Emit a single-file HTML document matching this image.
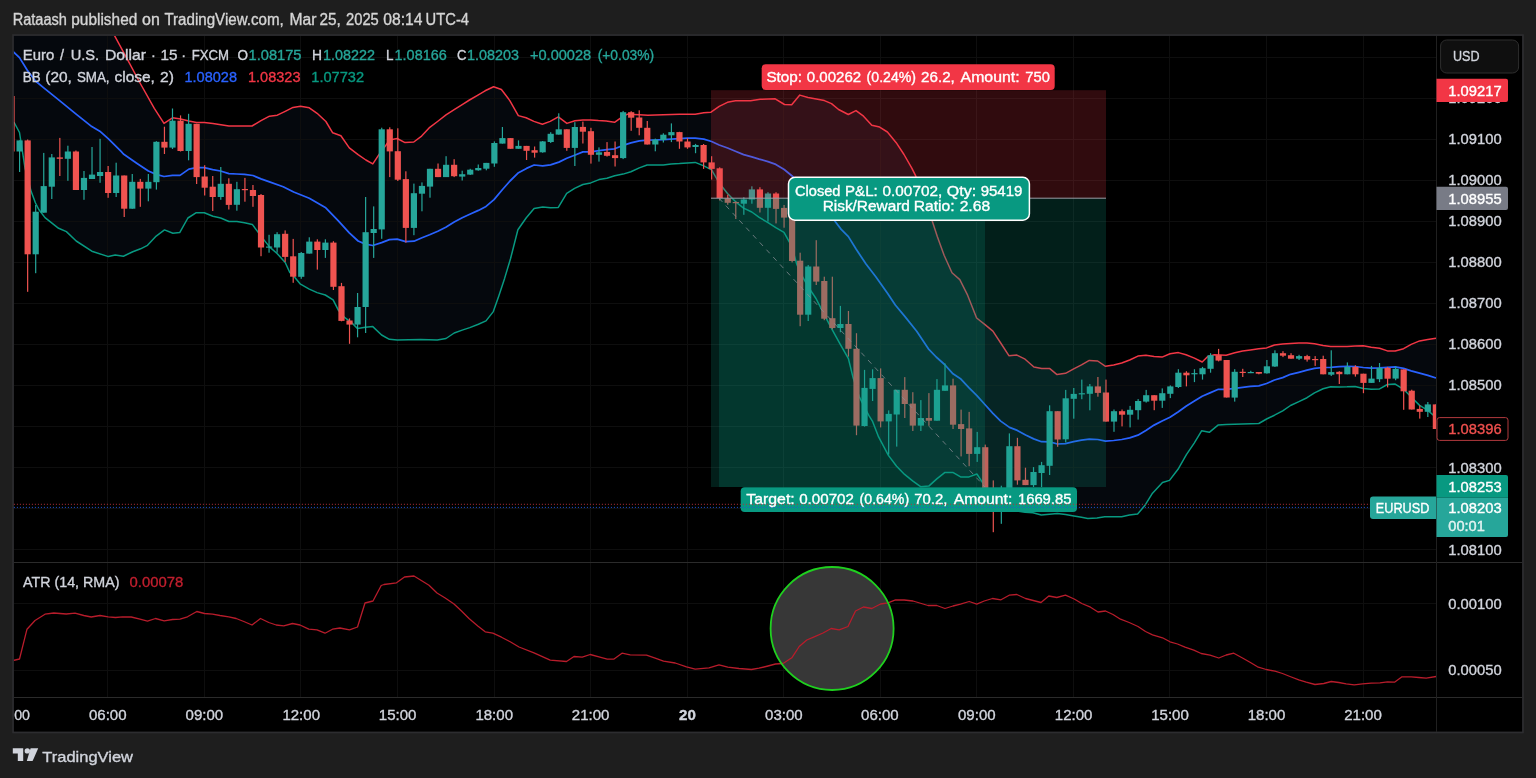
<!DOCTYPE html><html><head><meta charset="utf-8"><title>EURUSD chart</title>
<style>html,body{margin:0;padding:0;background:#1e1e1e;width:1536px;height:778px;overflow:hidden}svg{display:block;will-change:transform}text{font-family:"Liberation Sans",sans-serif}</style></head><body>
<svg width="1536" height="778" viewBox="0 0 1536 778">
<defs>
<clipPath id="cm"><rect x="13.9" y="35.9" width="1422.6" height="526.4"/></clipPath>
<clipPath id="ca"><rect x="13.9" y="562.3" width="1422.6" height="134.70000000000005"/></clipPath>
</defs>
<rect width="1536" height="778" fill="#1e1e1e"/><filter id="idf" x="0" y="0" width="1536" height="778" filterUnits="userSpaceOnUse" color-interpolation-filters="sRGB"><feOffset dx="0" dy="0"/></filter><g filter="url(#idf)">
<rect x="13.05" y="35.05" width="1509.90" height="697.40" fill="#000" stroke="#2d2d30" stroke-width="1.7"/>
<polygon points="13.9,30.0 114.3,30.0 114.3,35.2 127.0,58.6 140.6,84.0 154.3,108.4 164.0,123.4 172.5,117.8 180.7,119.1 188.9,121.1 196.5,122.5 204.3,122.5 212.9,123.4 228.9,126.0 252.0,126.0 261.0,120.7 269.5,116.2 277.3,115.2 285.2,111.3 293.0,107.4 300.5,106.2 309.3,107.8 317.1,113.3 325.9,121.5 332.7,132.8 340.9,135.7 349.3,147.9 358.1,154.7 365.9,160.0 372.8,163.9 379.6,153.7 385.5,145.9 389.4,140.0 397.2,138.5 405.0,142.6 413.8,142.0 421.6,136.1 429.1,127.9 438.2,121.0 446.0,114.9 454.2,109.6 462.6,104.3 469.5,100.0 477.5,95.3 485.1,90.8 493.6,86.7 501.4,89.5 509.8,100.6 518.3,115.6 526.1,117.8 533.9,121.4 542.4,124.3 550.2,121.4 558.3,116.9 566.9,123.4 574.9,120.8 582.8,119.9 590.6,119.9 598.4,120.6 606.2,121.0 614.5,122.3 620.5,118.1 627.4,114.2 639.3,114.8 647.9,115.2 663.5,114.8 679.5,114.2 695.2,114.2 703.8,112.8 711.0,112.2 719.2,106.4 727.4,102.3 735.5,100.7 750.6,100.7 760.2,99.3 775.2,98.8 784.5,104.5 791.7,104.7 799.8,95.1 808.0,97.5 817.6,99.2 824.4,100.6 831.5,103.6 838.6,109.5 848.3,114.5 856.0,110.6 863.5,116.2 871.8,125.2 879.6,127.1 887.4,132.0 896.2,142.7 904.0,154.5 911.8,168.1 915.7,175.9 924.0,198.5 932.3,221.2 937.3,236.6 944.1,255.2 952.0,272.8 959.8,279.6 967.6,295.2 976.6,318.0 984.7,324.4 992.9,331.2 1000.7,343.0 1008.9,355.7 1016.9,355.1 1025.1,359.2 1033.9,367.0 1041.7,368.4 1049.5,368.4 1057.0,374.6 1065.5,373.3 1073.7,368.8 1081.5,364.9 1089.3,360.4 1097.7,361.0 1105.5,366.3 1113.7,364.9 1121.7,363.0 1129.7,360.0 1137.9,356.1 1145.9,355.2 1154.1,356.5 1162.1,357.1 1170.0,353.8 1178.4,352.6 1186.0,354.8 1194.4,358.1 1202.2,362.0 1207.5,356.7 1214.3,354.8 1226.2,355.2 1234.8,352.8 1242.6,350.9 1250.4,349.9 1258.8,348.7 1266.6,347.9 1274.5,345.0 1282.7,344.0 1290.5,343.6 1298.9,343.0 1307.0,342.9 1314.5,343.8 1323.1,345.4 1330.7,346.4 1339.3,346.6 1347.1,346.4 1355.1,346.0 1363.3,345.8 1371.2,347.3 1379.6,348.3 1387.4,350.9 1395.2,350.9 1403.6,348.7 1411.2,344.4 1419.6,340.9 1427.8,339.5 1436.0,338.2 1436.0,417.5 1427.8,410.4 1419.6,405.4 1411.2,397.1 1403.6,389.3 1395.2,384.1 1387.4,384.5 1379.6,388.9 1371.2,389.3 1363.3,388.4 1355.1,386.4 1347.1,386.8 1339.3,387.0 1330.7,386.8 1323.1,388.8 1314.5,392.9 1307.0,397.7 1298.9,401.6 1290.5,405.5 1282.7,410.8 1274.5,415.2 1266.6,419.0 1258.8,423.5 1242.6,424.1 1226.2,424.5 1218.0,425.1 1209.3,432.3 1201.6,430.8 1194.2,443.1 1186.4,454.7 1178.0,469.3 1169.5,480.4 1162.5,482.5 1152.5,493.2 1144.8,505.6 1137.6,514.1 1129.4,515.1 1121.7,516.7 1104.7,516.7 1097.0,517.9 1087.8,518.4 1081.5,517.3 1073.9,515.9 1065.5,514.5 1057.3,513.6 1049.5,514.2 1041.3,515.0 1032.9,512.7 1025.0,512.3 1017.0,511.0 1009.0,509.0 1001.0,505.0 993.0,498.0 985.0,487.0 982.1,481.8 976.9,474.0 969.0,476.9 960.6,476.9 952.8,472.4 945.0,472.4 936.8,478.9 928.8,486.1 920.6,486.7 912.6,480.8 904.6,474.4 896.6,466.2 888.4,455.4 878.6,436.9 872.4,421.1 868.8,415.4 864.6,407.4 859.1,396.3 853.2,378.1 848.4,358.6 840.0,343.9 832.3,329.8 824.5,315.2 816.0,298.5 808.0,286.4 799.8,271.8 796.7,264.0 791.8,246.4 784.0,232.3 775.8,227.7 768.0,222.6 759.2,217.4 751.8,212.0 743.6,208.1 735.4,201.6 727.5,193.5 719.2,183.0 711.6,169.8 703.8,165.9 695.2,162.4 687.3,163.0 679.5,163.6 671.1,164.0 663.3,165.0 647.1,165.0 639.3,167.9 630.9,171.8 623.1,174.1 614.7,175.7 606.9,178.2 599.0,179.6 590.7,182.9 582.9,184.5 574.6,188.4 566.7,193.4 558.3,207.4 550.5,207.8 542.7,207.0 534.1,208.4 526.3,217.8 517.9,229.7 510.5,258.8 504.6,278.4 498.8,295.9 493.3,311.6 486.0,320.9 478.4,324.2 469.8,327.6 462.2,330.1 454.2,333.0 446.0,338.5 437.2,340.1 420.6,339.5 397.2,340.1 389.4,339.3 381.6,335.0 372.8,326.6 365.4,327.2 357.5,328.6 351.3,322.3 344.5,317.4 338.6,310.6 333.1,299.8 325.3,295.0 317.1,292.6 309.3,289.1 300.5,284.2 293.0,275.2 289.8,272.5 285.2,262.5 277.3,253.7 269.5,246.9 261.0,236.1 252.3,224.4 244.5,222.7 236.9,221.5 228.9,221.5 220.7,218.0 212.9,216.2 204.3,212.7 196.3,212.7 187.9,218.0 179.7,232.6 172.9,233.2 164.5,229.9 156.2,236.1 147.5,245.3 140.6,248.8 132.8,251.8 123.4,256.2 115.2,255.0 108.4,256.6 91.8,251.2 76.2,241.0 66.4,231.6 58.6,228.3 45.0,217.6 39.0,209.8 35.5,203.0 31.2,191.6 25.0,168.0 19.5,132.5 13.9,122.0" fill="#05080d" clip-path="url(#cm)"/>
<path d="M107.8 35.9V697M204.3 35.9V697M300.9 35.9V697M397.4 35.9V697M494.0 35.9V697M590.5 35.9V697M687.1 35.9V697M783.7 35.9V697M880.2 35.9V697M976.8 35.9V697M1073.3 35.9V697M1169.9 35.9V697M1266.5 35.9V697M1363.0 35.9V697M13.9 57.1H1436.5M13.9 98.2H1436.5M13.9 139.2H1436.5M13.9 180.2H1436.5M13.9 221.3H1436.5M13.9 262.4H1436.5M13.9 303.4H1436.5M13.9 344.4H1436.5M13.9 385.5H1436.5M13.9 426.6H1436.5M13.9 467.6H1436.5M13.9 508.6H1436.5M13.9 549.7H1436.5M13.9 603.5H1436.5M13.9 670.25H1436.5" stroke="#0e0e0e" stroke-width="1" fill="none" shape-rendering="crispEdges"/>
<g clip-path="url(#cm)">
<polyline points="114.3,35.2 127.0,58.6 140.6,84.0 154.3,108.4 164.0,123.4 172.5,117.8 180.7,119.1 188.9,121.1 196.5,122.5 204.3,122.5 212.9,123.4 228.9,126.0 252.0,126.0 261.0,120.7 269.5,116.2 277.3,115.2 285.2,111.3 293.0,107.4 300.5,106.2 309.3,107.8 317.1,113.3 325.9,121.5 332.7,132.8 340.9,135.7 349.3,147.9 358.1,154.7 365.9,160.0 372.8,163.9 379.6,153.7 385.5,145.9 389.4,140.0 397.2,138.5 405.0,142.6 413.8,142.0 421.6,136.1 429.1,127.9 438.2,121.0 446.0,114.9 454.2,109.6 462.6,104.3 469.5,100.0 477.5,95.3 485.1,90.8 493.6,86.7 501.4,89.5 509.8,100.6 518.3,115.6 526.1,117.8 533.9,121.4 542.4,124.3 550.2,121.4 558.3,116.9 566.9,123.4 574.9,120.8 582.8,119.9 590.6,119.9 598.4,120.6 606.2,121.0 614.5,122.3 620.5,118.1 627.4,114.2 639.3,114.8 647.9,115.2 663.5,114.8 679.5,114.2 695.2,114.2 703.8,112.8 711.0,112.2 719.2,106.4 727.4,102.3 735.5,100.7 750.6,100.7 760.2,99.3 775.2,98.8 784.5,104.5 791.7,104.7 799.8,95.1 808.0,97.5 817.6,99.2 824.4,100.6 831.5,103.6 838.6,109.5 848.3,114.5 856.0,110.6 863.5,116.2 871.8,125.2 879.6,127.1 887.4,132.0 896.2,142.7 904.0,154.5 911.8,168.1 915.7,175.9 924.0,198.5 932.3,221.2 937.3,236.6 944.1,255.2 952.0,272.8 959.8,279.6 967.6,295.2 976.6,318.0 984.7,324.4 992.9,331.2 1000.7,343.0 1008.9,355.7 1016.9,355.1 1025.1,359.2 1033.9,367.0 1041.7,368.4 1049.5,368.4 1057.0,374.6 1065.5,373.3 1073.7,368.8 1081.5,364.9 1089.3,360.4 1097.7,361.0 1105.5,366.3 1113.7,364.9 1121.7,363.0 1129.7,360.0 1137.9,356.1 1145.9,355.2 1154.1,356.5 1162.1,357.1 1170.0,353.8 1178.4,352.6 1186.0,354.8 1194.4,358.1 1202.2,362.0 1207.5,356.7 1214.3,354.8 1226.2,355.2 1234.8,352.8 1242.6,350.9 1250.4,349.9 1258.8,348.7 1266.6,347.9 1274.5,345.0 1282.7,344.0 1290.5,343.6 1298.9,343.0 1307.0,342.9 1314.5,343.8 1323.1,345.4 1330.7,346.4 1339.3,346.6 1347.1,346.4 1355.1,346.0 1363.3,345.8 1371.2,347.3 1379.6,348.3 1387.4,350.9 1395.2,350.9 1403.6,348.7 1411.2,344.4 1419.6,340.9 1427.8,339.5 1436.0,338.2" fill="none" stroke="#f23645" stroke-width="1.5" stroke-linejoin="round"/>
<polyline points="13.9,122.0 19.5,132.5 25.0,168.0 31.2,191.6 35.5,203.0 39.0,209.8 45.0,217.6 58.6,228.3 66.4,231.6 76.2,241.0 91.8,251.2 108.4,256.6 115.2,255.0 123.4,256.2 132.8,251.8 140.6,248.8 147.5,245.3 156.2,236.1 164.5,229.9 172.9,233.2 179.7,232.6 187.9,218.0 196.3,212.7 204.3,212.7 212.9,216.2 220.7,218.0 228.9,221.5 236.9,221.5 244.5,222.7 252.3,224.4 261.0,236.1 269.5,246.9 277.3,253.7 285.2,262.5 289.8,272.5 293.0,275.2 300.5,284.2 309.3,289.1 317.1,292.6 325.3,295.0 333.1,299.8 338.6,310.6 344.5,317.4 351.3,322.3 357.5,328.6 365.4,327.2 372.8,326.6 381.6,335.0 389.4,339.3 397.2,340.1 420.6,339.5 437.2,340.1 446.0,338.5 454.2,333.0 462.2,330.1 469.8,327.6 478.4,324.2 486.0,320.9 493.3,311.6 498.8,295.9 504.6,278.4 510.5,258.8 517.9,229.7 526.3,217.8 534.1,208.4 542.7,207.0 550.5,207.8 558.3,207.4 566.7,193.4 574.6,188.4 582.9,184.5 590.7,182.9 599.0,179.6 606.9,178.2 614.7,175.7 623.1,174.1 630.9,171.8 639.3,167.9 647.1,165.0 663.3,165.0 671.1,164.0 679.5,163.6 687.3,163.0 695.2,162.4 703.8,165.9 711.6,169.8 719.2,183.0 727.5,193.5 735.4,201.6 743.6,208.1 751.8,212.0 759.2,217.4 768.0,222.6 775.8,227.7 784.0,232.3 791.8,246.4 796.7,264.0 799.8,271.8 808.0,286.4 816.0,298.5 824.5,315.2 832.3,329.8 840.0,343.9 848.4,358.6 853.2,378.1 859.1,396.3 864.6,407.4 868.8,415.4 872.4,421.1 878.6,436.9 888.4,455.4 896.6,466.2 904.6,474.4 912.6,480.8 920.6,486.7 928.8,486.1 936.8,478.9 945.0,472.4 952.8,472.4 960.6,476.9 969.0,476.9 976.9,474.0 982.1,481.8 985.0,487.0 993.0,498.0 1001.0,505.0 1009.0,509.0 1017.0,511.0 1025.0,512.3 1032.9,512.7 1041.3,515.0 1049.5,514.2 1057.3,513.6 1065.5,514.5 1073.9,515.9 1081.5,517.3 1087.8,518.4 1097.0,517.9 1104.7,516.7 1121.7,516.7 1129.4,515.1 1137.6,514.1 1144.8,505.6 1152.5,493.2 1162.5,482.5 1169.5,480.4 1178.0,469.3 1186.4,454.7 1194.2,443.1 1201.6,430.8 1209.3,432.3 1218.0,425.1 1226.2,424.5 1242.6,424.1 1258.8,423.5 1266.6,419.0 1274.5,415.2 1282.7,410.8 1290.5,405.5 1298.9,401.6 1307.0,397.7 1314.5,392.9 1323.1,388.8 1330.7,386.8 1339.3,387.0 1347.1,386.8 1355.1,386.4 1363.3,388.4 1371.2,389.3 1379.6,388.9 1387.4,384.5 1395.2,384.1 1403.6,389.3 1411.2,397.1 1419.6,405.4 1427.8,410.4 1436.0,417.5" fill="none" stroke="#089981" stroke-width="1.5" stroke-linejoin="round"/>
<polyline points="12.7,51.2 19.5,57.6 27.3,70.3 35.5,81.0 43.8,87.9 59.6,100.6 75.8,113.9 91.8,126.6 99.8,131.2 108.2,138.7 121.1,151.4 123.4,154.0 136.7,163.2 148.4,171.0 156.2,174.4 164.0,176.5 172.5,175.4 180.0,175.4 188.9,169.1 196.5,167.7 204.3,167.7 212.7,169.7 220.5,171.0 228.9,173.6 236.9,174.0 244.5,174.4 252.9,175.5 261.0,178.9 269.5,181.8 283.2,186.7 293.7,192.0 309.3,198.2 325.3,207.4 338.6,221.1 349.3,232.8 358.1,241.0 365.4,244.1 372.8,245.5 381.6,242.6 389.4,239.6 397.2,239.2 405.6,241.6 414.0,241.2 422.0,237.7 429.6,234.8 437.8,231.2 445.8,227.3 454.2,222.1 462.2,217.8 469.8,214.2 478.4,210.4 486.0,206.4 494.0,199.6 502.5,189.5 510.0,181.0 518.5,172.7 526.5,168.4 534.1,165.0 542.7,165.8 550.5,164.8 558.9,162.1 566.8,158.3 574.6,155.2 582.9,151.9 590.7,151.9 599.0,150.7 606.9,149.7 614.7,148.8 623.1,145.4 630.9,142.9 639.3,140.9 647.1,140.2 654.9,140.0 663.3,139.6 671.1,139.2 679.5,138.6 687.3,138.2 695.2,138.2 703.8,139.2 711.6,141.5 719.2,145.0 727.6,148.0 735.4,151.3 743.6,154.6 751.8,156.8 759.2,159.1 768.0,161.6 775.8,164.4 784.2,169.5 791.8,175.7 800.0,183.5 808.0,191.5 816.0,199.5 824.5,209.5 834.8,221.0 841.2,229.4 848.4,236.6 856.2,249.3 866.0,264.0 875.8,276.7 887.5,293.3 895.3,305.0 905.0,316.6 916.7,331.2 928.4,348.8 936.2,357.0 944.6,364.5 953.0,373.8 960.9,379.1 969.1,387.9 976.9,395.7 984.9,404.5 992.9,413.3 1000.7,421.1 1009.5,427.4 1017.3,430.4 1025.6,435.0 1033.7,438.9 1041.5,441.7 1049.7,441.9 1057.5,444.0 1065.4,443.6 1073.7,441.7 1081.5,440.1 1089.3,439.1 1097.7,439.5 1105.5,441.1 1113.7,440.5 1121.7,439.5 1129.7,437.8 1137.9,435.2 1145.9,430.4 1154.1,425.1 1162.1,421.0 1170.0,417.3 1178.4,411.8 1186.0,406.3 1194.4,401.1 1202.2,396.2 1210.0,392.9 1218.4,389.3 1226.2,389.3 1234.8,388.4 1242.6,387.4 1250.4,386.4 1258.8,385.8 1266.6,383.5 1274.5,380.0 1282.7,377.6 1290.5,374.3 1298.9,372.3 1307.0,370.2 1314.5,368.3 1323.1,367.5 1330.7,367.3 1339.3,366.7 1347.1,366.4 1355.1,366.5 1363.3,367.5 1371.2,368.2 1379.6,367.9 1387.4,367.3 1395.2,366.9 1403.6,368.4 1411.2,370.8 1419.6,373.1 1427.8,375.3 1436.0,378.0" fill="none" stroke="#2962ff" stroke-width="1.75" stroke-linejoin="round"/>
<rect x="10.95" y="96.0" width="1.2" height="55.5" fill="#ef5350"/><rect x="8.45" y="96.0" width="6.2" height="55.5" fill="#ef5350"/>
<rect x="19.00" y="140.4" width="1.2" height="31.6" fill="#26a69a"/><rect x="16.50" y="140.4" width="6.2" height="11.1" fill="#26a69a"/>
<rect x="27.05" y="139.5" width="1.2" height="152.3" fill="#ef5350"/><rect x="24.55" y="140.4" width="6.2" height="113.9" fill="#ef5350"/>
<rect x="35.09" y="205.0" width="1.2" height="68.2" fill="#26a69a"/><rect x="32.59" y="211.7" width="6.2" height="42.6" fill="#26a69a"/>
<rect x="43.14" y="152.9" width="1.2" height="59.8" fill="#26a69a"/><rect x="40.64" y="186.1" width="6.2" height="26.6" fill="#26a69a"/>
<rect x="51.19" y="154.0" width="1.2" height="45.0" fill="#26a69a"/><rect x="48.69" y="157.4" width="6.2" height="29.3" fill="#26a69a"/>
<rect x="59.23" y="137.9" width="1.2" height="38.1" fill="#ef5350"/><rect x="56.73" y="157.4" width="6.2" height="1.4" fill="#ef5350"/>
<rect x="67.28" y="145.7" width="1.2" height="35.1" fill="#26a69a"/><rect x="64.78" y="151.5" width="6.2" height="7.3" fill="#26a69a"/>
<rect x="75.33" y="150.5" width="1.2" height="39.5" fill="#ef5350"/><rect x="72.83" y="151.5" width="6.2" height="38.5" fill="#ef5350"/>
<rect x="83.38" y="171.0" width="1.2" height="28.8" fill="#26a69a"/><rect x="80.88" y="177.9" width="6.2" height="12.1" fill="#26a69a"/>
<rect x="91.42" y="147.0" width="1.2" height="32.0" fill="#26a69a"/><rect x="88.92" y="174.6" width="6.2" height="4.4" fill="#26a69a"/>
<rect x="99.47" y="138.8" width="1.2" height="44.0" fill="#26a69a"/><rect x="96.97" y="172.0" width="6.2" height="4.0" fill="#26a69a"/>
<rect x="107.52" y="166.0" width="1.2" height="31.8" fill="#ef5350"/><rect x="105.02" y="172.0" width="6.2" height="21.0" fill="#ef5350"/>
<rect x="115.56" y="162.7" width="1.2" height="34.3" fill="#26a69a"/><rect x="113.06" y="175.5" width="6.2" height="17.5" fill="#26a69a"/>
<rect x="123.61" y="175.5" width="1.2" height="41.5" fill="#ef5350"/><rect x="121.11" y="175.5" width="6.2" height="33.2" fill="#ef5350"/>
<rect x="131.66" y="174.0" width="1.2" height="34.8" fill="#26a69a"/><rect x="129.16" y="181.8" width="6.2" height="26.9" fill="#26a69a"/>
<rect x="139.71" y="178.9" width="1.2" height="27.9" fill="#ef5350"/><rect x="137.21" y="181.8" width="6.2" height="6.8" fill="#ef5350"/>
<rect x="147.75" y="174.0" width="1.2" height="27.3" fill="#26a69a"/><rect x="145.25" y="181.8" width="6.2" height="6.8" fill="#26a69a"/>
<rect x="155.80" y="141.2" width="1.2" height="48.4" fill="#26a69a"/><rect x="153.30" y="141.8" width="6.2" height="40.4" fill="#26a69a"/>
<rect x="163.85" y="126.7" width="1.2" height="27.3" fill="#ef5350"/><rect x="161.35" y="141.8" width="6.2" height="5.8" fill="#ef5350"/>
<rect x="171.89" y="108.5" width="1.2" height="40.5" fill="#26a69a"/><rect x="169.39" y="120.7" width="6.2" height="26.9" fill="#26a69a"/>
<rect x="179.94" y="115.4" width="1.2" height="36.1" fill="#ef5350"/><rect x="177.44" y="120.7" width="6.2" height="30.3" fill="#ef5350"/>
<rect x="187.99" y="113.8" width="1.2" height="46.5" fill="#26a69a"/><rect x="185.49" y="123.8" width="6.2" height="27.2" fill="#26a69a"/>
<rect x="196.03" y="123.8" width="1.2" height="60.2" fill="#ef5350"/><rect x="193.53" y="123.8" width="6.2" height="53.3" fill="#ef5350"/>
<rect x="204.08" y="165.2" width="1.2" height="30.3" fill="#ef5350"/><rect x="201.58" y="176.5" width="6.2" height="11.2" fill="#ef5350"/>
<rect x="212.13" y="176.0" width="1.2" height="35.0" fill="#ef5350"/><rect x="209.63" y="186.7" width="6.2" height="10.3" fill="#ef5350"/>
<rect x="220.18" y="167.0" width="1.2" height="32.8" fill="#26a69a"/><rect x="217.68" y="183.8" width="6.2" height="13.2" fill="#26a69a"/>
<rect x="228.22" y="178.3" width="1.2" height="31.2" fill="#ef5350"/><rect x="225.72" y="183.8" width="6.2" height="21.1" fill="#ef5350"/>
<rect x="236.27" y="181.8" width="1.2" height="28.9" fill="#26a69a"/><rect x="233.77" y="189.2" width="6.2" height="15.6" fill="#26a69a"/>
<rect x="244.32" y="177.9" width="1.2" height="23.8" fill="#ef5350"/><rect x="241.82" y="189.0" width="6.2" height="1.2" fill="#ef5350"/>
<rect x="252.36" y="185.0" width="1.2" height="21.8" fill="#ef5350"/><rect x="249.86" y="190.0" width="6.2" height="6.0" fill="#ef5350"/>
<rect x="260.41" y="194.0" width="1.2" height="62.2" fill="#ef5350"/><rect x="257.91" y="195.0" width="6.2" height="52.5" fill="#ef5350"/>
<rect x="268.46" y="234.8" width="1.2" height="17.9" fill="#26a69a"/><rect x="265.96" y="246.5" width="6.2" height="1.2" fill="#26a69a"/>
<rect x="276.50" y="232.2" width="1.2" height="20.5" fill="#26a69a"/><rect x="274.00" y="234.2" width="6.2" height="13.3" fill="#26a69a"/>
<rect x="284.55" y="230.4" width="1.2" height="31.5" fill="#ef5350"/><rect x="282.05" y="233.8" width="6.2" height="23.1" fill="#ef5350"/>
<rect x="292.60" y="238.9" width="1.2" height="43.9" fill="#ef5350"/><rect x="290.10" y="256.3" width="6.2" height="20.4" fill="#ef5350"/>
<rect x="300.65" y="252.0" width="1.2" height="26.8" fill="#26a69a"/><rect x="298.15" y="253.0" width="6.2" height="23.8" fill="#26a69a"/>
<rect x="308.69" y="237.3" width="1.2" height="16.3" fill="#26a69a"/><rect x="306.19" y="241.6" width="6.2" height="12.0" fill="#26a69a"/>
<rect x="316.74" y="239.3" width="1.2" height="30.3" fill="#ef5350"/><rect x="314.24" y="241.6" width="6.2" height="8.4" fill="#ef5350"/>
<rect x="324.79" y="239.3" width="1.2" height="18.6" fill="#26a69a"/><rect x="322.29" y="242.6" width="6.2" height="7.4" fill="#26a69a"/>
<rect x="332.83" y="241.2" width="1.2" height="48.8" fill="#ef5350"/><rect x="330.33" y="242.6" width="6.2" height="44.2" fill="#ef5350"/>
<rect x="340.88" y="282.9" width="1.2" height="38.4" fill="#ef5350"/><rect x="338.38" y="286.2" width="6.2" height="34.7" fill="#ef5350"/>
<rect x="348.93" y="318.4" width="1.2" height="25.4" fill="#ef5350"/><rect x="346.43" y="320.5" width="6.2" height="4.1" fill="#ef5350"/>
<rect x="356.97" y="293.0" width="1.2" height="44.3" fill="#26a69a"/><rect x="354.47" y="307.0" width="6.2" height="17.6" fill="#26a69a"/>
<rect x="365.02" y="197.0" width="1.2" height="136.0" fill="#26a69a"/><rect x="362.52" y="232.2" width="6.2" height="74.8" fill="#26a69a"/>
<rect x="373.07" y="206.4" width="1.2" height="51.5" fill="#26a69a"/><rect x="370.57" y="229.0" width="6.2" height="4.0" fill="#26a69a"/>
<rect x="381.12" y="127.7" width="1.2" height="111.1" fill="#26a69a"/><rect x="378.62" y="129.3" width="6.2" height="100.1" fill="#26a69a"/>
<rect x="389.16" y="127.3" width="1.2" height="49.8" fill="#ef5350"/><rect x="386.66" y="129.3" width="6.2" height="22.1" fill="#ef5350"/>
<rect x="397.21" y="128.3" width="1.2" height="52.7" fill="#ef5350"/><rect x="394.71" y="151.2" width="6.2" height="28.5" fill="#ef5350"/>
<rect x="405.26" y="171.3" width="1.2" height="71.3" fill="#ef5350"/><rect x="402.76" y="179.1" width="6.2" height="48.8" fill="#ef5350"/>
<rect x="413.30" y="183.6" width="1.2" height="51.6" fill="#26a69a"/><rect x="410.80" y="193.2" width="6.2" height="34.7" fill="#26a69a"/>
<rect x="421.35" y="182.4" width="1.2" height="28.9" fill="#26a69a"/><rect x="418.85" y="185.9" width="6.2" height="7.8" fill="#26a69a"/>
<rect x="429.40" y="168.8" width="1.2" height="28.9" fill="#26a69a"/><rect x="426.90" y="168.8" width="6.2" height="17.8" fill="#26a69a"/>
<rect x="437.44" y="163.5" width="1.2" height="13.6" fill="#ef5350"/><rect x="434.94" y="168.8" width="6.2" height="8.3" fill="#ef5350"/>
<rect x="445.49" y="156.2" width="1.2" height="20.8" fill="#26a69a"/><rect x="442.99" y="164.8" width="6.2" height="12.3" fill="#26a69a"/>
<rect x="453.54" y="159.2" width="1.2" height="17.9" fill="#ef5350"/><rect x="451.04" y="164.8" width="6.2" height="11.4" fill="#ef5350"/>
<rect x="461.59" y="170.7" width="1.2" height="9.8" fill="#26a69a"/><rect x="459.09" y="174.2" width="6.2" height="2.4" fill="#26a69a"/>
<rect x="469.63" y="168.8" width="1.2" height="6.2" fill="#26a69a"/><rect x="467.13" y="169.7" width="6.2" height="4.9" fill="#26a69a"/>
<rect x="477.68" y="164.5" width="1.2" height="6.2" fill="#26a69a"/><rect x="475.18" y="168.0" width="6.2" height="2.3" fill="#26a69a"/>
<rect x="485.73" y="162.9" width="1.2" height="7.4" fill="#26a69a"/><rect x="483.23" y="162.9" width="6.2" height="5.8" fill="#26a69a"/>
<rect x="493.77" y="141.4" width="1.2" height="25.4" fill="#26a69a"/><rect x="491.27" y="143.0" width="6.2" height="20.5" fill="#26a69a"/>
<rect x="501.82" y="127.0" width="1.2" height="16.6" fill="#26a69a"/><rect x="499.32" y="138.1" width="6.2" height="5.5" fill="#26a69a"/>
<rect x="509.87" y="138.1" width="1.2" height="10.7" fill="#ef5350"/><rect x="507.37" y="138.1" width="6.2" height="10.7" fill="#ef5350"/>
<rect x="517.91" y="140.4" width="1.2" height="8.4" fill="#26a69a"/><rect x="515.41" y="145.9" width="6.2" height="2.9" fill="#26a69a"/>
<rect x="525.96" y="145.9" width="1.2" height="14.1" fill="#ef5350"/><rect x="523.46" y="145.9" width="6.2" height="4.9" fill="#ef5350"/>
<rect x="534.01" y="146.5" width="1.2" height="11.1" fill="#ef5350"/><rect x="531.51" y="150.2" width="6.2" height="2.5" fill="#ef5350"/>
<rect x="542.06" y="141.0" width="1.2" height="11.7" fill="#26a69a"/><rect x="539.56" y="141.4" width="6.2" height="10.9" fill="#26a69a"/>
<rect x="550.10" y="132.2" width="1.2" height="10.8" fill="#26a69a"/><rect x="547.60" y="133.8" width="6.2" height="8.2" fill="#26a69a"/>
<rect x="558.15" y="113.3" width="1.2" height="21.3" fill="#26a69a"/><rect x="555.65" y="129.3" width="6.2" height="5.3" fill="#26a69a"/>
<rect x="566.20" y="129.3" width="1.2" height="21.5" fill="#ef5350"/><rect x="563.70" y="129.3" width="6.2" height="18.6" fill="#ef5350"/>
<rect x="574.24" y="122.2" width="1.2" height="43.8" fill="#26a69a"/><rect x="571.74" y="127.0" width="6.2" height="20.9" fill="#26a69a"/>
<rect x="582.29" y="121.6" width="1.2" height="21.9" fill="#ef5350"/><rect x="579.79" y="126.9" width="6.2" height="4.8" fill="#ef5350"/>
<rect x="590.34" y="127.8" width="1.2" height="35.8" fill="#ef5350"/><rect x="587.84" y="131.2" width="6.2" height="23.6" fill="#ef5350"/>
<rect x="598.38" y="147.4" width="1.2" height="14.2" fill="#26a69a"/><rect x="595.88" y="152.3" width="6.2" height="2.5" fill="#26a69a"/>
<rect x="606.43" y="142.1" width="1.2" height="14.5" fill="#ef5350"/><rect x="603.93" y="151.9" width="6.2" height="3.9" fill="#ef5350"/>
<rect x="614.48" y="141.5" width="1.2" height="25.0" fill="#ef5350"/><rect x="611.98" y="155.2" width="6.2" height="2.9" fill="#ef5350"/>
<rect x="622.53" y="110.9" width="1.2" height="48.2" fill="#26a69a"/><rect x="620.03" y="112.2" width="6.2" height="45.9" fill="#26a69a"/>
<rect x="630.57" y="111.2" width="1.2" height="19.6" fill="#ef5350"/><rect x="628.07" y="112.2" width="6.2" height="5.5" fill="#ef5350"/>
<rect x="638.62" y="110.3" width="1.2" height="25.0" fill="#ef5350"/><rect x="636.12" y="117.5" width="6.2" height="10.3" fill="#ef5350"/>
<rect x="646.67" y="121.0" width="1.2" height="23.5" fill="#ef5350"/><rect x="644.17" y="127.8" width="6.2" height="16.7" fill="#ef5350"/>
<rect x="654.71" y="138.6" width="1.2" height="12.7" fill="#26a69a"/><rect x="652.21" y="139.6" width="6.2" height="4.9" fill="#26a69a"/>
<rect x="662.76" y="133.3" width="1.2" height="9.2" fill="#26a69a"/><rect x="660.26" y="134.7" width="6.2" height="5.3" fill="#26a69a"/>
<rect x="670.81" y="123.4" width="1.2" height="18.7" fill="#26a69a"/><rect x="668.31" y="132.1" width="6.2" height="3.2" fill="#26a69a"/>
<rect x="678.85" y="131.8" width="1.2" height="17.0" fill="#ef5350"/><rect x="676.35" y="132.1" width="6.2" height="9.4" fill="#ef5350"/>
<rect x="686.90" y="138.2" width="1.2" height="10.6" fill="#ef5350"/><rect x="684.40" y="141.5" width="6.2" height="5.9" fill="#ef5350"/>
<rect x="694.95" y="143.9" width="1.2" height="9.3" fill="#26a69a"/><rect x="692.45" y="145.0" width="6.2" height="2.0" fill="#26a69a"/>
<rect x="703.00" y="144.0" width="1.2" height="24.9" fill="#ef5350"/><rect x="700.50" y="145.0" width="6.2" height="17.4" fill="#ef5350"/>
<rect x="711.04" y="156.2" width="1.2" height="23.4" fill="#ef5350"/><rect x="708.54" y="162.4" width="6.2" height="6.5" fill="#ef5350"/>
<rect x="719.09" y="167.3" width="1.2" height="33.2" fill="#ef5350"/><rect x="716.59" y="168.3" width="6.2" height="29.9" fill="#ef5350"/>
<rect x="727.14" y="194.7" width="1.2" height="10.1" fill="#ef5350"/><rect x="724.64" y="198.4" width="6.2" height="4.4" fill="#ef5350"/>
<rect x="735.18" y="201.3" width="1.2" height="17.7" fill="#ef5350"/><rect x="732.68" y="202.0" width="6.2" height="1.2" fill="#ef5350"/>
<rect x="743.23" y="197.2" width="1.2" height="17.6" fill="#26a69a"/><rect x="740.73" y="199.5" width="6.2" height="4.2" fill="#26a69a"/>
<rect x="751.28" y="186.3" width="1.2" height="17.4" fill="#26a69a"/><rect x="748.78" y="189.4" width="6.2" height="10.1" fill="#26a69a"/>
<rect x="759.32" y="187.2" width="1.2" height="25.3" fill="#ef5350"/><rect x="756.82" y="189.4" width="6.2" height="18.4" fill="#ef5350"/>
<rect x="767.37" y="192.2" width="1.2" height="29.4" fill="#26a69a"/><rect x="764.87" y="193.5" width="6.2" height="14.3" fill="#26a69a"/>
<rect x="775.42" y="192.2" width="1.2" height="31.2" fill="#ef5350"/><rect x="772.92" y="193.5" width="6.2" height="15.4" fill="#ef5350"/>
<rect x="783.47" y="205.0" width="1.2" height="22.7" fill="#ef5350"/><rect x="780.97" y="207.9" width="6.2" height="9.7" fill="#ef5350"/>
<rect x="791.51" y="214.0" width="1.2" height="48.4" fill="#ef5350"/><rect x="789.01" y="217.5" width="6.2" height="43.5" fill="#ef5350"/>
<rect x="799.56" y="252.7" width="1.2" height="73.5" fill="#ef5350"/><rect x="797.06" y="260.7" width="6.2" height="54.0" fill="#ef5350"/>
<rect x="807.61" y="265.0" width="1.2" height="56.0" fill="#26a69a"/><rect x="805.11" y="266.5" width="6.2" height="48.2" fill="#26a69a"/>
<rect x="815.65" y="240.2" width="1.2" height="44.8" fill="#ef5350"/><rect x="813.15" y="266.5" width="6.2" height="15.1" fill="#ef5350"/>
<rect x="823.70" y="276.7" width="1.2" height="43.5" fill="#ef5350"/><rect x="821.20" y="281.0" width="6.2" height="37.7" fill="#ef5350"/>
<rect x="831.75" y="276.7" width="1.2" height="52.6" fill="#ef5350"/><rect x="829.25" y="318.2" width="6.2" height="9.8" fill="#ef5350"/>
<rect x="839.79" y="305.9" width="1.2" height="26.3" fill="#26a69a"/><rect x="837.29" y="324.0" width="6.2" height="4.0" fill="#26a69a"/>
<rect x="847.84" y="311.0" width="1.2" height="45.6" fill="#ef5350"/><rect x="845.34" y="324.0" width="6.2" height="24.8" fill="#ef5350"/>
<rect x="855.89" y="333.2" width="1.2" height="102.0" fill="#ef5350"/><rect x="853.39" y="348.8" width="6.2" height="76.8" fill="#ef5350"/>
<rect x="863.94" y="369.9" width="1.2" height="56.7" fill="#26a69a"/><rect x="861.44" y="387.9" width="6.2" height="38.1" fill="#26a69a"/>
<rect x="871.98" y="369.3" width="1.2" height="31.7" fill="#26a69a"/><rect x="869.48" y="378.1" width="6.2" height="10.8" fill="#26a69a"/>
<rect x="880.03" y="368.4" width="1.2" height="59.0" fill="#ef5350"/><rect x="877.53" y="378.1" width="6.2" height="43.3" fill="#ef5350"/>
<rect x="888.08" y="410.4" width="1.2" height="44.1" fill="#26a69a"/><rect x="885.58" y="413.9" width="6.2" height="7.5" fill="#26a69a"/>
<rect x="896.12" y="389.8" width="1.2" height="56.8" fill="#26a69a"/><rect x="893.62" y="389.8" width="6.2" height="24.7" fill="#26a69a"/>
<rect x="904.17" y="377.1" width="1.2" height="40.9" fill="#ef5350"/><rect x="901.67" y="389.8" width="6.2" height="14.2" fill="#ef5350"/>
<rect x="912.22" y="392.2" width="1.2" height="38.8" fill="#ef5350"/><rect x="909.72" y="403.6" width="6.2" height="22.0" fill="#ef5350"/>
<rect x="920.26" y="400.1" width="1.2" height="30.9" fill="#26a69a"/><rect x="917.76" y="418.0" width="6.2" height="7.6" fill="#26a69a"/>
<rect x="928.31" y="393.1" width="1.2" height="32.7" fill="#ef5350"/><rect x="925.81" y="418.0" width="6.2" height="2.7" fill="#ef5350"/>
<rect x="936.36" y="379.1" width="1.2" height="41.6" fill="#26a69a"/><rect x="933.86" y="389.8" width="6.2" height="30.9" fill="#26a69a"/>
<rect x="944.41" y="363.5" width="1.2" height="27.3" fill="#26a69a"/><rect x="941.91" y="385.4" width="6.2" height="5.4" fill="#26a69a"/>
<rect x="952.45" y="378.7" width="1.2" height="50.3" fill="#ef5350"/><rect x="949.95" y="385.4" width="6.2" height="39.3" fill="#ef5350"/>
<rect x="960.50" y="409.6" width="1.2" height="46.8" fill="#ef5350"/><rect x="958.00" y="424.1" width="6.2" height="4.9" fill="#ef5350"/>
<rect x="968.55" y="411.9" width="1.2" height="54.3" fill="#ef5350"/><rect x="966.05" y="428.4" width="6.2" height="25.5" fill="#ef5350"/>
<rect x="976.59" y="431.9" width="1.2" height="30.0" fill="#26a69a"/><rect x="974.09" y="447.2" width="6.2" height="6.7" fill="#26a69a"/>
<rect x="984.64" y="444.6" width="1.2" height="55.4" fill="#ef5350"/><rect x="982.14" y="447.2" width="6.2" height="49.8" fill="#ef5350"/>
<rect x="992.69" y="480.4" width="1.2" height="51.8" fill="#ef5350"/><rect x="990.19" y="496.0" width="6.2" height="13.0" fill="#ef5350"/>
<rect x="1000.73" y="485.7" width="1.2" height="38.1" fill="#26a69a"/><rect x="998.23" y="492.0" width="6.2" height="17.0" fill="#26a69a"/>
<rect x="1008.78" y="433.4" width="1.2" height="62.6" fill="#26a69a"/><rect x="1006.28" y="446.2" width="6.2" height="45.8" fill="#26a69a"/>
<rect x="1016.83" y="437.8" width="1.2" height="46.9" fill="#ef5350"/><rect x="1014.33" y="446.2" width="6.2" height="34.2" fill="#ef5350"/>
<rect x="1024.88" y="467.7" width="1.2" height="17.4" fill="#ef5350"/><rect x="1022.38" y="479.8" width="6.2" height="5.3" fill="#ef5350"/>
<rect x="1032.92" y="467.1" width="1.2" height="19.9" fill="#26a69a"/><rect x="1030.42" y="472.0" width="6.2" height="13.1" fill="#26a69a"/>
<rect x="1040.97" y="461.9" width="1.2" height="25.1" fill="#26a69a"/><rect x="1038.47" y="465.2" width="6.2" height="7.8" fill="#26a69a"/>
<rect x="1049.02" y="405.3" width="1.2" height="69.7" fill="#26a69a"/><rect x="1046.52" y="411.2" width="6.2" height="54.6" fill="#26a69a"/>
<rect x="1057.06" y="411.2" width="1.2" height="35.6" fill="#ef5350"/><rect x="1054.56" y="411.2" width="6.2" height="28.3" fill="#ef5350"/>
<rect x="1065.11" y="389.9" width="1.2" height="52.5" fill="#26a69a"/><rect x="1062.61" y="398.3" width="6.2" height="41.0" fill="#26a69a"/>
<rect x="1073.16" y="388.0" width="1.2" height="30.7" fill="#26a69a"/><rect x="1070.66" y="393.9" width="6.2" height="4.9" fill="#26a69a"/>
<rect x="1081.20" y="379.6" width="1.2" height="19.6" fill="#26a69a"/><rect x="1078.70" y="393.2" width="6.2" height="1.2" fill="#26a69a"/>
<rect x="1089.25" y="384.0" width="1.2" height="26.3" fill="#26a69a"/><rect x="1086.75" y="386.4" width="6.2" height="7.4" fill="#26a69a"/>
<rect x="1097.30" y="377.0" width="1.2" height="19.7" fill="#ef5350"/><rect x="1094.80" y="386.4" width="6.2" height="6.5" fill="#ef5350"/>
<rect x="1105.35" y="379.6" width="1.2" height="42.0" fill="#ef5350"/><rect x="1102.85" y="392.5" width="6.2" height="29.1" fill="#ef5350"/>
<rect x="1113.39" y="409.5" width="1.2" height="22.3" fill="#26a69a"/><rect x="1110.89" y="411.2" width="6.2" height="10.4" fill="#26a69a"/>
<rect x="1121.44" y="409.5" width="1.2" height="16.9" fill="#ef5350"/><rect x="1118.94" y="411.2" width="6.2" height="3.5" fill="#ef5350"/>
<rect x="1129.49" y="405.9" width="1.2" height="21.5" fill="#26a69a"/><rect x="1126.99" y="409.8" width="6.2" height="4.9" fill="#26a69a"/>
<rect x="1137.53" y="399.1" width="1.2" height="20.5" fill="#26a69a"/><rect x="1135.03" y="401.0" width="6.2" height="9.2" fill="#26a69a"/>
<rect x="1145.58" y="389.9" width="1.2" height="12.7" fill="#26a69a"/><rect x="1143.08" y="395.2" width="6.2" height="6.4" fill="#26a69a"/>
<rect x="1153.63" y="395.2" width="1.2" height="15.0" fill="#ef5350"/><rect x="1151.13" y="395.2" width="6.2" height="5.5" fill="#ef5350"/>
<rect x="1161.67" y="388.4" width="1.2" height="19.5" fill="#26a69a"/><rect x="1159.17" y="393.2" width="6.2" height="7.5" fill="#26a69a"/>
<rect x="1169.72" y="385.4" width="1.2" height="12.7" fill="#26a69a"/><rect x="1167.22" y="386.4" width="6.2" height="7.4" fill="#26a69a"/>
<rect x="1177.77" y="369.2" width="1.2" height="18.8" fill="#26a69a"/><rect x="1175.27" y="372.7" width="6.2" height="14.3" fill="#26a69a"/>
<rect x="1185.82" y="371.2" width="1.2" height="15.2" fill="#ef5350"/><rect x="1183.32" y="372.7" width="6.2" height="2.6" fill="#ef5350"/>
<rect x="1193.86" y="369.2" width="1.2" height="12.9" fill="#26a69a"/><rect x="1191.36" y="373.1" width="6.2" height="1.2" fill="#26a69a"/>
<rect x="1201.91" y="366.9" width="1.2" height="12.7" fill="#26a69a"/><rect x="1199.41" y="368.2" width="6.2" height="6.1" fill="#26a69a"/>
<rect x="1209.96" y="353.2" width="1.2" height="19.5" fill="#26a69a"/><rect x="1207.46" y="355.2" width="6.2" height="13.6" fill="#26a69a"/>
<rect x="1218.00" y="348.9" width="1.2" height="12.5" fill="#ef5350"/><rect x="1215.50" y="355.2" width="6.2" height="5.4" fill="#ef5350"/>
<rect x="1226.05" y="360.0" width="1.2" height="37.5" fill="#ef5350"/><rect x="1223.55" y="360.0" width="6.2" height="37.5" fill="#ef5350"/>
<rect x="1234.10" y="369.2" width="1.2" height="32.4" fill="#26a69a"/><rect x="1231.60" y="371.8" width="6.2" height="25.8" fill="#26a69a"/>
<rect x="1242.14" y="368.8" width="1.2" height="8.2" fill="#ef5350"/><rect x="1239.64" y="371.8" width="6.2" height="1.2" fill="#ef5350"/>
<rect x="1250.19" y="370.8" width="1.2" height="2.3" fill="#26a69a"/><rect x="1247.69" y="372.0" width="6.2" height="1.2" fill="#26a69a"/>
<rect x="1258.24" y="372.0" width="1.2" height="2.3" fill="#ef5350"/><rect x="1255.74" y="372.0" width="6.2" height="1.7" fill="#ef5350"/>
<rect x="1266.29" y="360.0" width="1.2" height="13.7" fill="#26a69a"/><rect x="1263.79" y="366.3" width="6.2" height="7.0" fill="#26a69a"/>
<rect x="1274.33" y="350.3" width="1.2" height="16.6" fill="#26a69a"/><rect x="1271.83" y="353.2" width="6.2" height="13.3" fill="#26a69a"/>
<rect x="1282.38" y="351.2" width="1.2" height="5.9" fill="#ef5350"/><rect x="1279.88" y="353.2" width="6.2" height="2.5" fill="#ef5350"/>
<rect x="1290.43" y="353.2" width="1.2" height="5.5" fill="#ef5350"/><rect x="1287.93" y="355.2" width="6.2" height="3.5" fill="#ef5350"/>
<rect x="1298.47" y="354.8" width="1.2" height="5.2" fill="#26a69a"/><rect x="1295.97" y="356.1" width="6.2" height="2.6" fill="#26a69a"/>
<rect x="1306.52" y="354.8" width="1.2" height="6.8" fill="#ef5350"/><rect x="1304.02" y="356.1" width="6.2" height="3.5" fill="#ef5350"/>
<rect x="1314.57" y="356.1" width="1.2" height="9.8" fill="#ef5350"/><rect x="1312.07" y="359.0" width="6.2" height="1.2" fill="#ef5350"/>
<rect x="1322.61" y="355.7" width="1.2" height="18.6" fill="#ef5350"/><rect x="1320.11" y="359.0" width="6.2" height="15.3" fill="#ef5350"/>
<rect x="1330.66" y="350.3" width="1.2" height="25.7" fill="#26a69a"/><rect x="1328.16" y="372.1" width="6.2" height="2.6" fill="#26a69a"/>
<rect x="1338.71" y="371.2" width="1.2" height="12.8" fill="#ef5350"/><rect x="1336.21" y="371.8" width="6.2" height="2.4" fill="#ef5350"/>
<rect x="1346.76" y="362.4" width="1.2" height="11.9" fill="#26a69a"/><rect x="1344.26" y="366.9" width="6.2" height="7.4" fill="#26a69a"/>
<rect x="1354.80" y="365.3" width="1.2" height="11.3" fill="#ef5350"/><rect x="1352.30" y="366.9" width="6.2" height="7.4" fill="#ef5350"/>
<rect x="1362.85" y="373.7" width="1.2" height="19.5" fill="#ef5350"/><rect x="1360.35" y="373.7" width="6.2" height="9.2" fill="#ef5350"/>
<rect x="1370.90" y="365.9" width="1.2" height="17.0" fill="#26a69a"/><rect x="1368.40" y="378.6" width="6.2" height="4.3" fill="#26a69a"/>
<rect x="1378.94" y="363.0" width="1.2" height="19.1" fill="#26a69a"/><rect x="1376.44" y="367.9" width="6.2" height="11.3" fill="#26a69a"/>
<rect x="1386.99" y="366.9" width="1.2" height="20.5" fill="#ef5350"/><rect x="1384.49" y="367.9" width="6.2" height="10.8" fill="#ef5350"/>
<rect x="1395.04" y="366.3" width="1.2" height="13.9" fill="#26a69a"/><rect x="1392.54" y="368.8" width="6.2" height="9.8" fill="#26a69a"/>
<rect x="1403.08" y="369.4" width="1.2" height="40.4" fill="#ef5350"/><rect x="1400.58" y="369.4" width="6.2" height="21.9" fill="#ef5350"/>
<rect x="1411.13" y="389.7" width="1.2" height="19.8" fill="#ef5350"/><rect x="1408.63" y="390.7" width="6.2" height="18.8" fill="#ef5350"/>
<rect x="1419.18" y="405.4" width="1.2" height="13.2" fill="#ef5350"/><rect x="1416.68" y="408.9" width="6.2" height="2.9" fill="#ef5350"/>
<rect x="1427.23" y="402.0" width="1.2" height="15.0" fill="#26a69a"/><rect x="1424.73" y="404.4" width="6.2" height="7.4" fill="#26a69a"/>
<rect x="1435.27" y="404.4" width="1.2" height="24.6" fill="#ef5350"/><rect x="1432.77" y="404.4" width="6.2" height="24.6" fill="#ef5350"/>
<rect x="711" y="90.2" width="395" height="107.99999999999999" fill="#f23645" fill-opacity="0.2"/>
<rect x="711" y="198.2" width="395" height="288.8" fill="#089981" fill-opacity="0.2"/>
<rect x="719" y="198.2" width="266" height="288.8" fill="#089981" fill-opacity="0.2"/>
<path d="M711 198.2H1106" stroke="#9a9da6" stroke-width="1" fill="none"/>
<path d="M719 198.2L985 487" stroke="#8c8f97" stroke-opacity="0.75" stroke-width="1" stroke-dasharray="5 5" fill="none"/>
</g>
<rect x="761.7" y="64.3" width="293" height="25.8" rx="4" fill="#f23645"/>
<text x="766.4" y="82.4" font-size="14.4" fill="#fff" stroke="#fff" stroke-width="0.35" textLength="35.6" lengthAdjust="spacingAndGlyphs">Stop:</text>
<text x="806.8" y="82.4" font-size="14.4" fill="#fff" stroke="#fff" stroke-width="0.35" textLength="54.4" lengthAdjust="spacingAndGlyphs">0.00262</text>
<text x="866.6" y="82.4" font-size="14.4" fill="#fff" stroke="#fff" stroke-width="0.35" textLength="49.4" lengthAdjust="spacingAndGlyphs">(0.24%)</text>
<text x="921.1" y="82.4" font-size="14.4" fill="#fff" stroke="#fff" stroke-width="0.35" textLength="33.7" lengthAdjust="spacingAndGlyphs">26.2,</text>
<text x="960.6" y="82.4" font-size="14.4" fill="#fff" stroke="#fff" stroke-width="0.35" textLength="59.0" lengthAdjust="spacingAndGlyphs">Amount:</text>
<text x="1025.3" y="82.4" font-size="14.4" fill="#fff" stroke="#fff" stroke-width="0.35" textLength="24.5" lengthAdjust="spacingAndGlyphs">750</text>
<rect x="740.7" y="487.2" width="336.3" height="24.8" rx="4" fill="#089981"/>
<text x="746.3" y="504.1" font-size="14.4" fill="#fff" stroke="#fff" stroke-width="0.35" textLength="48.4" lengthAdjust="spacingAndGlyphs">Target:</text>
<text x="799.2" y="504.1" font-size="14.4" fill="#fff" stroke="#fff" stroke-width="0.35" textLength="54.7" lengthAdjust="spacingAndGlyphs">0.00702</text>
<text x="859.6" y="504.1" font-size="14.4" fill="#fff" stroke="#fff" stroke-width="0.35" textLength="49.5" lengthAdjust="spacingAndGlyphs">(0.64%)</text>
<text x="914.3" y="504.1" font-size="14.4" fill="#fff" stroke="#fff" stroke-width="0.35" textLength="33.1" lengthAdjust="spacingAndGlyphs">70.2,</text>
<text x="953.7" y="504.1" font-size="14.4" fill="#fff" stroke="#fff" stroke-width="0.35" textLength="58.6" lengthAdjust="spacingAndGlyphs">Amount:</text>
<text x="1017.9" y="504.1" font-size="14.4" fill="#fff" stroke="#fff" stroke-width="0.35" textLength="53.6" lengthAdjust="spacingAndGlyphs">1669.85</text>
<rect x="788.5" y="177.3" width="240.9" height="42.9" rx="6.5" fill="#089981" stroke="#fff" stroke-width="1.5"/>
<text x="795.0" y="195.8" font-size="14.4" fill="#fff" stroke="#fff" stroke-width="0.35" textLength="45.5" lengthAdjust="spacingAndGlyphs">Closed</text>
<text x="845.1" y="195.8" font-size="14.4" fill="#fff" stroke="#fff" stroke-width="0.35" textLength="32.6" lengthAdjust="spacingAndGlyphs">P&amp;L:</text>
<text x="882.6" y="195.8" font-size="14.4" fill="#fff" stroke="#fff" stroke-width="0.35" textLength="59.6" lengthAdjust="spacingAndGlyphs">0.00702,</text>
<text x="946.8" y="195.8" font-size="14.4" fill="#fff" stroke="#fff" stroke-width="0.35" textLength="29.3" lengthAdjust="spacingAndGlyphs">Qty:</text>
<text x="980.7" y="195.8" font-size="14.4" fill="#fff" stroke="#fff" stroke-width="0.35" textLength="41.7" lengthAdjust="spacingAndGlyphs">95419</text>
<text x="822.7" y="211.2" font-size="14.4" fill="#fff" stroke="#fff" stroke-width="0.35" textLength="87.2" lengthAdjust="spacingAndGlyphs">Risk/Reward</text>
<text x="913.7" y="211.2" font-size="14.4" fill="#fff" stroke="#fff" stroke-width="0.35" textLength="40.9" lengthAdjust="spacingAndGlyphs">Ratio:</text>
<text x="959.7" y="211.2" font-size="14.4" fill="#fff" stroke="#fff" stroke-width="0.35" textLength="30.4" lengthAdjust="spacingAndGlyphs">2.68</text>
<path d="M13.9 504.3H1370" stroke="#b3303a" stroke-width="1" stroke-dasharray="1 2" fill="none"/>
<path d="M13.9 507.4H1370" stroke="#2456d8" stroke-width="1" stroke-dasharray="1 2" fill="none"/>
<g clip-path="url(#ca)">
<circle cx="832.1" cy="628.5" r="61.5" fill="#373737"/>
<polyline points="13.0,660.5 19.5,659.0 27.0,629.2 35.0,620.5 45.0,614.2 53.8,613.0 66.2,614.0 75.0,613.2 83.8,615.5 91.2,617.0 100.0,615.5 108.2,616.8 115.5,617.5 122.5,616.8 131.2,617.0 140.0,619.2 147.5,621.2 155.5,618.5 164.2,620.8 172.5,619.5 180.0,619.2 187.5,616.8 196.8,611.5 204.5,613.5 212.5,614.2 220.0,615.5 228.8,616.8 236.2,618.5 243.8,621.5 252.0,625.0 260.5,618.5 268.8,622.5 276.2,625.0 283.8,625.8 292.5,623.5 300.0,625.0 308.8,629.2 317.0,629.8 325.0,633.2 332.5,629.2 340.0,628.0 349.5,629.8 357.5,627.0 365.0,603.0 373.0,601.0 381.2,585.5 384.0,584.5 396.5,582.8 404.5,577.0 414.0,576.0 429.0,585.2 437.0,593.0 445.2,598.0 454.0,604.0 461.5,611.0 469.0,618.5 477.8,626.0 485.2,631.8 492.8,633.2 501.5,637.2 510.2,641.8 519.0,647.0 534.0,652.8 550.2,660.2 566.5,661.5 574.0,656.5 582.2,657.2 590.2,654.5 599.0,656.8 607.2,659.2 614.0,659.0 622.0,653.2 630.2,654.8 646.5,655.2 655.2,658.2 663.5,661.2 675.2,663.0 686.5,666.8 695.2,669.2 709.0,667.8 719.0,664.8 727.8,667.2 739.0,668.5 751.5,669.5 759.0,668.2 768.0,666.0 775.5,664.0 783.0,663.5 791.8,657.8 799.2,646.5 806.8,640.0 814.2,636.8 823.0,633.0 831.2,628.5 839.2,629.8 848.0,626.5 855.5,611.0 863.5,607.0 871.8,608.5 880.5,604.0 888.0,602.8 895.5,599.8 904.2,600.0 913.0,601.0 928.0,605.5 936.8,605.5 945.0,608.5 953.0,606.0 960.5,604.2 969.2,601.5 976.8,604.2 984.2,601.0 992.5,598.5 1001.0,599.8 1009.2,595.2 1016.8,594.5 1025.5,598.5 1041.0,602.5 1048.8,596.0 1056.8,597.5 1065.5,595.2 1074.2,599.0 1081.8,603.5 1090.5,607.2 1098.0,612.0 1105.5,611.0 1113.0,614.5 1120.5,619.2 1129.2,622.5 1138.0,626.5 1145.5,631.5 1152.5,634.8 1162.5,637.8 1170.0,641.8 1177.5,644.0 1185.0,647.2 1193.8,650.2 1201.2,653.5 1210.0,655.2 1218.8,658.0 1226.2,655.0 1233.8,653.2 1242.5,658.0 1250.0,662.2 1257.5,666.8 1266.2,669.5 1275.0,671.2 1282.5,673.5 1290.0,676.5 1298.8,679.8 1306.2,682.2 1315.0,684.5 1323.8,683.5 1331.2,681.5 1338.8,682.5 1346.2,683.8 1354.2,684.8 1362.5,683.8 1371.2,683.2 1380.0,682.8 1387.5,681.8 1394.5,682.2 1402.0,676.8 1411.2,676.8 1418.8,677.5 1426.2,678.2 1436.2,676.5" fill="none" stroke="#b71c2b" stroke-width="1.3" stroke-linejoin="round"/>
<circle cx="832.1" cy="628.5" r="61.5" fill="none" stroke="#1fd01f" stroke-width="1.8"/>
</g>
<path d="M13.9 562.3H1522.1M13.9 697H1522.1" stroke="#2b2b2b" stroke-width="1" fill="none" shape-rendering="crispEdges"/>
<path d="M1436.5 35.9V731.6" stroke="#202020" stroke-width="1" fill="none" shape-rendering="crispEdges"/>
<text x="1448.3" y="102.8" font-size="14.4" fill="#d1d4dc" stroke="#d1d4dc" stroke-width="0.35" textLength="53.3" lengthAdjust="spacingAndGlyphs">1.09200</text>
<text x="1448.3" y="143.8" font-size="14.4" fill="#d1d4dc" stroke="#d1d4dc" stroke-width="0.35" textLength="53.3" lengthAdjust="spacingAndGlyphs">1.09100</text>
<text x="1448.3" y="184.7" font-size="14.4" fill="#d1d4dc" stroke="#d1d4dc" stroke-width="0.35" textLength="53.3" lengthAdjust="spacingAndGlyphs">1.09000</text>
<text x="1448.3" y="225.8" font-size="14.4" fill="#d1d4dc" stroke="#d1d4dc" stroke-width="0.35" textLength="53.3" lengthAdjust="spacingAndGlyphs">1.08900</text>
<text x="1448.3" y="266.8" font-size="14.4" fill="#d1d4dc" stroke="#d1d4dc" stroke-width="0.35" textLength="53.3" lengthAdjust="spacingAndGlyphs">1.08800</text>
<text x="1448.3" y="307.9" font-size="14.4" fill="#d1d4dc" stroke="#d1d4dc" stroke-width="0.35" textLength="53.3" lengthAdjust="spacingAndGlyphs">1.08700</text>
<text x="1448.3" y="348.9" font-size="14.4" fill="#d1d4dc" stroke="#d1d4dc" stroke-width="0.35" textLength="53.3" lengthAdjust="spacingAndGlyphs">1.08600</text>
<text x="1448.3" y="389.9" font-size="14.4" fill="#d1d4dc" stroke="#d1d4dc" stroke-width="0.35" textLength="53.3" lengthAdjust="spacingAndGlyphs">1.08500</text>
<text x="1448.3" y="472.7" font-size="14.4" fill="#d1d4dc" stroke="#d1d4dc" stroke-width="0.35" textLength="53.3" lengthAdjust="spacingAndGlyphs">1.08300</text>
<text x="1448.3" y="554.7" font-size="14.4" fill="#d1d4dc" stroke="#d1d4dc" stroke-width="0.35" textLength="53.3" lengthAdjust="spacingAndGlyphs">1.08100</text>
<text x="1448.3" y="608.7" font-size="14.4" fill="#d1d4dc" stroke="#d1d4dc" stroke-width="0.35" textLength="53.3" lengthAdjust="spacingAndGlyphs">0.00100</text>
<text x="1448.3" y="674.9" font-size="14.4" fill="#d1d4dc" stroke="#d1d4dc" stroke-width="0.35" textLength="53.3" lengthAdjust="spacingAndGlyphs">0.00050</text>
<path d="M1436.5 78.8H1506a2 2 0 0 1 2 2V100a2 2 0 0 1-2 2H1436.5Z" fill="#f23645"/>
<text x="1448.3" y="95.6" font-size="14.4" fill="#fff" stroke="#fff" stroke-width="0.35" textLength="53.3" lengthAdjust="spacingAndGlyphs">1.09217</text>
<path d="M1436.5 186.8H1506a2 2 0 0 1 2 2V208a2 2 0 0 1-2 2H1436.5Z" fill="#787b86"/>
<text x="1448.3" y="203.6" font-size="14.4" fill="#fff" stroke="#fff" stroke-width="0.35" textLength="53.3" lengthAdjust="spacingAndGlyphs">1.08955</text>
<rect x="1437" y="417.6" width="71" height="22.8" rx="2.5" fill="#000" stroke="#b23a3e" stroke-width="1"/>
<text x="1448.3" y="434.1" font-size="14.4" fill="#f0504e" stroke="#f0504e" stroke-width="0.35" textLength="53.3" lengthAdjust="spacingAndGlyphs">1.08396</text>
<path d="M1436.5 475H1506a2 2 0 0 1 2 2V497.7H1436.5Z" fill="#089981"/>
<text x="1448.3" y="491.7" font-size="14.4" fill="#fff" stroke="#fff" stroke-width="0.35" textLength="53.3" lengthAdjust="spacingAndGlyphs">1.08253</text>
<path d="M1436.5 497.7H1508V535a2 2 0 0 1-2 2H1436.5Z" fill="#26a69a"/>
<text x="1448.3" y="512.7" font-size="14.4" fill="#fff" stroke="#fff" stroke-width="0.35" textLength="53.3" lengthAdjust="spacingAndGlyphs">1.08203</text>
<text x="1448.3" y="531.2" font-size="14.4" fill="#fff" stroke="#fff" stroke-width="0.35" fill-opacity="0.8" textLength="36.5" lengthAdjust="spacingAndGlyphs">00:01</text>
<path d="M1373 496.4H1436V519H1373a3 3 0 0 1-3-3V499.4a3 3 0 0 1 3-3Z" fill="#26a69a"/>
<text x="1375.8" y="512.8" font-size="14.4" fill="#fff" stroke="#fff" stroke-width="0.35" textLength="53.5" lengthAdjust="spacingAndGlyphs">EURUSD</text>
<rect x="1440.6" y="40" width="78" height="33" rx="6" fill="#0f0f0f" stroke="#2e2e2e" stroke-width="1"/>
<text x="1453" y="61.3" font-size="14.4" fill="#d1d4dc" stroke="#d1d4dc" stroke-width="0.35" textLength="26.5" lengthAdjust="spacingAndGlyphs">USD</text>
<text x="14.2" y="720.4" font-size="14.4" fill="#d1d4dc" stroke="#d1d4dc" stroke-width="0.35" textLength="15.8" lengthAdjust="spacingAndGlyphs">00</text>
<text x="107.75" y="720.4" text-anchor="middle" font-size="14.4" fill="#d1d4dc" stroke="#d1d4dc" stroke-width="0.35" textLength="37.6" lengthAdjust="spacingAndGlyphs">06:00</text>
<text x="204.4" y="720.4" text-anchor="middle" font-size="14.4" fill="#d1d4dc" stroke="#d1d4dc" stroke-width="0.35" textLength="37.6" lengthAdjust="spacingAndGlyphs">09:00</text>
<text x="301.2" y="720.4" text-anchor="middle" font-size="14.4" fill="#d1d4dc" stroke="#d1d4dc" stroke-width="0.35" textLength="37.6" lengthAdjust="spacingAndGlyphs">12:00</text>
<text x="397.6" y="720.4" text-anchor="middle" font-size="14.4" fill="#d1d4dc" stroke="#d1d4dc" stroke-width="0.35" textLength="37.6" lengthAdjust="spacingAndGlyphs">15:00</text>
<text x="494.2" y="720.4" text-anchor="middle" font-size="14.4" fill="#d1d4dc" stroke="#d1d4dc" stroke-width="0.35" textLength="37.6" lengthAdjust="spacingAndGlyphs">18:00</text>
<text x="590.6" y="720.4" text-anchor="middle" font-size="14.4" fill="#d1d4dc" stroke="#d1d4dc" stroke-width="0.35" textLength="37.6" lengthAdjust="spacingAndGlyphs">21:00</text>
<text x="783.9" y="720.4" text-anchor="middle" font-size="14.4" fill="#d1d4dc" stroke="#d1d4dc" stroke-width="0.35" textLength="37.6" lengthAdjust="spacingAndGlyphs">03:00</text>
<text x="879.9" y="720.4" text-anchor="middle" font-size="14.4" fill="#d1d4dc" stroke="#d1d4dc" stroke-width="0.35" textLength="37.6" lengthAdjust="spacingAndGlyphs">06:00</text>
<text x="976.8" y="720.4" text-anchor="middle" font-size="14.4" fill="#d1d4dc" stroke="#d1d4dc" stroke-width="0.35" textLength="37.6" lengthAdjust="spacingAndGlyphs">09:00</text>
<text x="1073.6" y="720.4" text-anchor="middle" font-size="14.4" fill="#d1d4dc" stroke="#d1d4dc" stroke-width="0.35" textLength="37.6" lengthAdjust="spacingAndGlyphs">12:00</text>
<text x="1170" y="720.4" text-anchor="middle" font-size="14.4" fill="#d1d4dc" stroke="#d1d4dc" stroke-width="0.35" textLength="37.6" lengthAdjust="spacingAndGlyphs">15:00</text>
<text x="1266.5" y="720.4" text-anchor="middle" font-size="14.4" fill="#d1d4dc" stroke="#d1d4dc" stroke-width="0.35" textLength="37.6" lengthAdjust="spacingAndGlyphs">18:00</text>
<text x="1363" y="720.4" text-anchor="middle" font-size="14.4" fill="#d1d4dc" stroke="#d1d4dc" stroke-width="0.35" textLength="37.6" lengthAdjust="spacingAndGlyphs">21:00</text>
<text x="687.4" y="720.4" text-anchor="middle" font-size="14.4" fill="#d1d4dc" stroke="#d1d4dc" stroke-width="0.35" font-weight="bold" textLength="16.8" lengthAdjust="spacingAndGlyphs">20</text>
<text x="22.8" y="59.8" font-size="14.4" fill="#d1d4dc" stroke="#d1d4dc" stroke-width="0.35" textLength="31.5" lengthAdjust="spacingAndGlyphs">Euro</text>
<text x="62.05" y="59.8" font-size="14.4" fill="#d1d4dc" stroke="#d1d4dc" stroke-width="0.35" text-anchor="middle">/</text>
<text x="70.7" y="59.8" font-size="14.4" fill="#d1d4dc" stroke="#d1d4dc" stroke-width="0.35" textLength="28.5" lengthAdjust="spacingAndGlyphs">U.S.</text>
<text x="104.9" y="59.8" font-size="14.4" fill="#d1d4dc" stroke="#d1d4dc" stroke-width="0.35" textLength="41.2" lengthAdjust="spacingAndGlyphs">Dollar</text>
<text x="153.30" y="59.8" font-size="14.4" fill="#d1d4dc" stroke="#d1d4dc" stroke-width="0.35" text-anchor="middle">·</text>
<text x="160.5" y="59.8" font-size="14.4" fill="#d1d4dc" stroke="#d1d4dc" stroke-width="0.35" textLength="16.9" lengthAdjust="spacingAndGlyphs">15</text>
<text x="183.60" y="59.8" font-size="14.4" fill="#d1d4dc" stroke="#d1d4dc" stroke-width="0.35" text-anchor="middle">·</text>
<text x="191.8" y="59.8" font-size="14.4" fill="#d1d4dc" stroke="#d1d4dc" stroke-width="0.35" textLength="37.3" lengthAdjust="spacingAndGlyphs">FXCM</text>
<text x="237.5" y="59.8" font-size="14.4" fill="#d1d4dc" stroke="#d1d4dc" stroke-width="0.35" textLength="10.5" lengthAdjust="spacingAndGlyphs">O</text>
<text x="248.5" y="59.8" font-size="14.4" fill="#26a69a" stroke="#26a69a" stroke-width="0.35" textLength="53" lengthAdjust="spacingAndGlyphs">1.08175</text>
<text x="312" y="59.8" font-size="14.4" fill="#d1d4dc" stroke="#d1d4dc" stroke-width="0.35" textLength="10" lengthAdjust="spacingAndGlyphs">H</text>
<text x="323" y="59.8" font-size="14.4" fill="#26a69a" stroke="#26a69a" stroke-width="0.35" textLength="52" lengthAdjust="spacingAndGlyphs">1.08222</text>
<text x="386" y="59.8" font-size="14.4" fill="#d1d4dc" stroke="#d1d4dc" stroke-width="0.35" textLength="7.5" lengthAdjust="spacingAndGlyphs">L</text>
<text x="394.6" y="59.8" font-size="14.4" fill="#26a69a" stroke="#26a69a" stroke-width="0.35" textLength="52.1" lengthAdjust="spacingAndGlyphs">1.08166</text>
<text x="457" y="59.8" font-size="14.4" fill="#d1d4dc" stroke="#d1d4dc" stroke-width="0.35" textLength="9.5" lengthAdjust="spacingAndGlyphs">C</text>
<text x="467" y="59.8" font-size="14.4" fill="#26a69a" stroke="#26a69a" stroke-width="0.35" textLength="52" lengthAdjust="spacingAndGlyphs">1.08203</text>
<text x="530" y="59.8" font-size="14.4" fill="#26a69a" stroke="#26a69a" stroke-width="0.35" textLength="61.2" lengthAdjust="spacingAndGlyphs">+0.00028</text>
<text x="597.7" y="59.8" font-size="14.4" fill="#26a69a" stroke="#26a69a" stroke-width="0.35" textLength="56.5" lengthAdjust="spacingAndGlyphs">(+0.03%)</text>
<text x="22.8" y="82.3" font-size="14.4" fill="#d1d4dc" stroke="#d1d4dc" stroke-width="0.35" textLength="17.8" lengthAdjust="spacingAndGlyphs">BB</text>
<text x="45.3" y="82.3" font-size="14.4" fill="#d1d4dc" stroke="#d1d4dc" stroke-width="0.35" textLength="26.6" lengthAdjust="spacingAndGlyphs">(20,</text>
<text x="76.9" y="82.3" font-size="14.4" fill="#d1d4dc" stroke="#d1d4dc" stroke-width="0.35" textLength="32.7" lengthAdjust="spacingAndGlyphs">SMA,</text>
<text x="114.6" y="82.3" font-size="14.4" fill="#d1d4dc" stroke="#d1d4dc" stroke-width="0.35" textLength="40.3" lengthAdjust="spacingAndGlyphs">close,</text>
<text x="160.1" y="82.3" font-size="14.4" fill="#d1d4dc" stroke="#d1d4dc" stroke-width="0.35" textLength="13.9" lengthAdjust="spacingAndGlyphs">2)</text>
<text x="184.5" y="82.3" font-size="14.4" fill="#2962ff" stroke="#2962ff" stroke-width="0.35" textLength="52.5" lengthAdjust="spacingAndGlyphs">1.08028</text>
<text x="248" y="82.3" font-size="14.4" fill="#f23645" stroke="#f23645" stroke-width="0.35" textLength="52.5" lengthAdjust="spacingAndGlyphs">1.08323</text>
<text x="311.3" y="82.3" font-size="14.4" fill="#089981" stroke="#089981" stroke-width="0.35" textLength="52.8" lengthAdjust="spacingAndGlyphs">1.07732</text>
<text x="23" y="587.4" font-size="14.4" fill="#d1d4dc" stroke="#d1d4dc" stroke-width="0.35" textLength="96.5" lengthAdjust="spacingAndGlyphs">ATR (14, RMA)</text>
<text x="129.5" y="587.4" font-size="14.4" fill="#c01f2e" stroke="#c01f2e" stroke-width="0.35" textLength="53.7" lengthAdjust="spacingAndGlyphs">0.00078</text>
<text x="12.7" y="25" font-size="15.6" fill="#d4d4d4" stroke="#d4d4d4" stroke-width="0.35" textLength="54.3" lengthAdjust="spacingAndGlyphs">Rataash</text>
<text x="71.3" y="25" font-size="15.6" fill="#d4d4d4" stroke="#d4d4d4" stroke-width="0.35" textLength="66.0" lengthAdjust="spacingAndGlyphs">published</text>
<text x="142.0" y="25" font-size="15.6" fill="#d4d4d4" stroke="#d4d4d4" stroke-width="0.35" textLength="17.8" lengthAdjust="spacingAndGlyphs">on</text>
<text x="164.4" y="25" font-size="15.6" fill="#d4d4d4" stroke="#d4d4d4" stroke-width="0.35" textLength="119.4" lengthAdjust="spacingAndGlyphs">TradingView.com,</text>
<text x="289.4" y="25" font-size="15.6" fill="#d4d4d4" stroke="#d4d4d4" stroke-width="0.35" textLength="27.0" lengthAdjust="spacingAndGlyphs">Mar</text>
<text x="319.5" y="25" font-size="15.6" fill="#d4d4d4" stroke="#d4d4d4" stroke-width="0.35" textLength="21.3" lengthAdjust="spacingAndGlyphs">25,</text>
<text x="346.0" y="25" font-size="15.6" fill="#d4d4d4" stroke="#d4d4d4" stroke-width="0.35" textLength="32.8" lengthAdjust="spacingAndGlyphs">2025</text>
<text x="383.3" y="25" font-size="15.6" fill="#d4d4d4" stroke="#d4d4d4" stroke-width="0.35" textLength="39.2" lengthAdjust="spacingAndGlyphs">08:14</text>
<text x="425.6" y="25" font-size="15.6" fill="#d4d4d4" stroke="#d4d4d4" stroke-width="0.35" textLength="43.4" lengthAdjust="spacingAndGlyphs">UTC-4</text>
<g fill="#d1d4dc"><path d="M12.8 748.2H23.2V761H17.8V753.4H12.8Z"/><circle cx="27.3" cy="750.9" r="2.7"/><path d="M30.6 748.2H38.2L32.6 761H26.8Z"/></g>
<text x="42.3" y="761.8" font-size="15.4" fill="#d1d4dc" stroke="#d1d4dc" stroke-width="0.35" textLength="90.7" lengthAdjust="spacingAndGlyphs">TradingView</text>
</g></svg></body></html>
